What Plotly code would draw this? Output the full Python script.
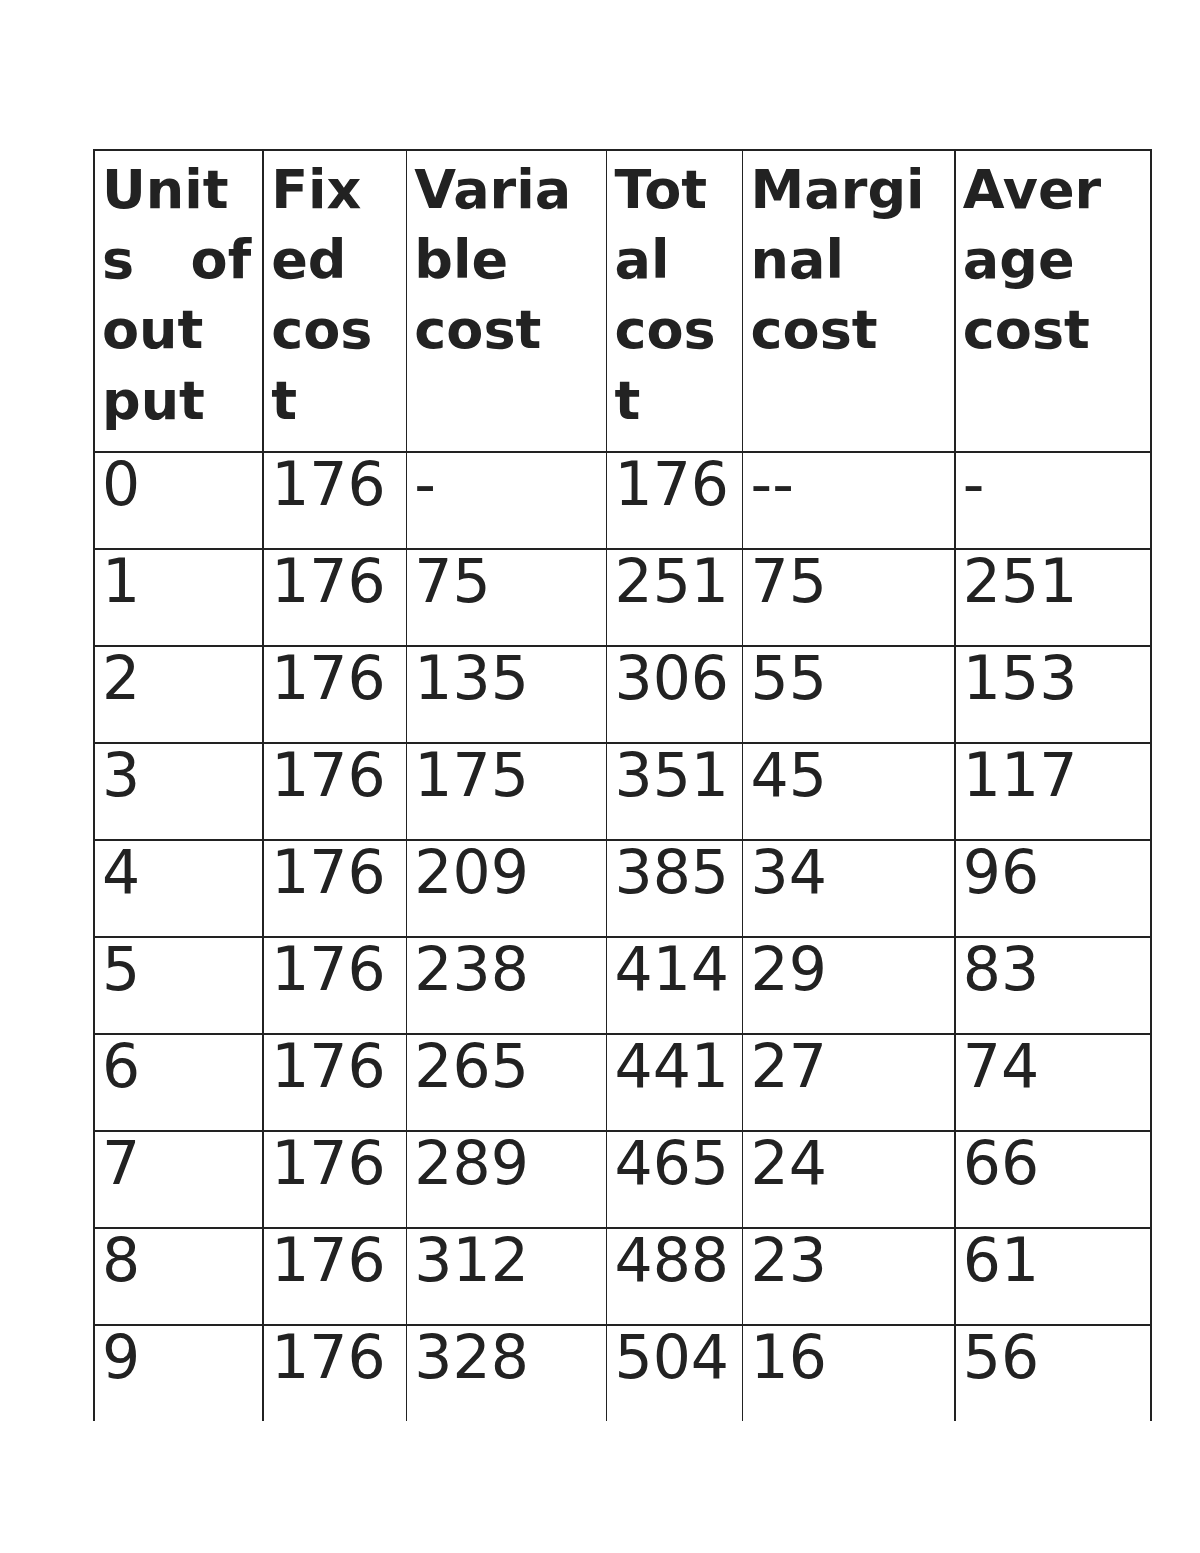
import plotly.graph_objects as go

# header labels, broken the way the reference wraps them
headers = ["Unit<br>s   of<br>out<br>put", "Fix<br>ed<br>cos<br>t", "Varia<br>ble<br>cost",
           "Tot<br>al<br>cos<br>t", "Margi<br>nal<br>cost", "Aver<br>age<br>cost"]

units = ["0", "1", "2", "3", "4", "5", "6", "7", "8", "9"]
fixed_cost = ["176"] * 10
variable_cost = ["-", "75", "135", "175", "209", "238", "265", "289", "312", "328"]
total_cost = ["176", "251", "306", "351", "385", "414", "441", "465", "488", "504"]
marginal_cost = ["--", "75", "55", "45", "34", "29", "27", "24", "23", "16"]
average_cost = ["-", "251", "153", "117", "96", "83", "74", "66", "61", "56"]

H = 1553
fig = go.Figure(go.Table(
    domain=dict(x=[86 / 1200, 1143 / 1200], y=[(H - 1413) / H, (H - 142) / H]),
    columnwidth=[169, 143, 200, 136, 212, 196],
    header=dict(values=["<b>%s</b>" % h for h in headers],
                align="left", height=302,
                line=dict(color="#222222", width=1.5),
                fill=dict(color="white"),
                font=dict(family="DejaVu Sans", size=54, color="#222222")),
    cells=dict(values=[units, fixed_cost, variable_cost, total_cost, marginal_cost, average_cost],
               align="left", height=97,
               line=dict(color="#222222", width=1.5),
               fill=dict(color="white"),
               font=dict(family="DejaVu Sans", size=60, color="#222222")),
))
fig.update_layout(width=1200, height=H, margin=dict(l=0, r=0, t=0, b=0),
                  paper_bgcolor="white")
fig.write_html("out.html")
